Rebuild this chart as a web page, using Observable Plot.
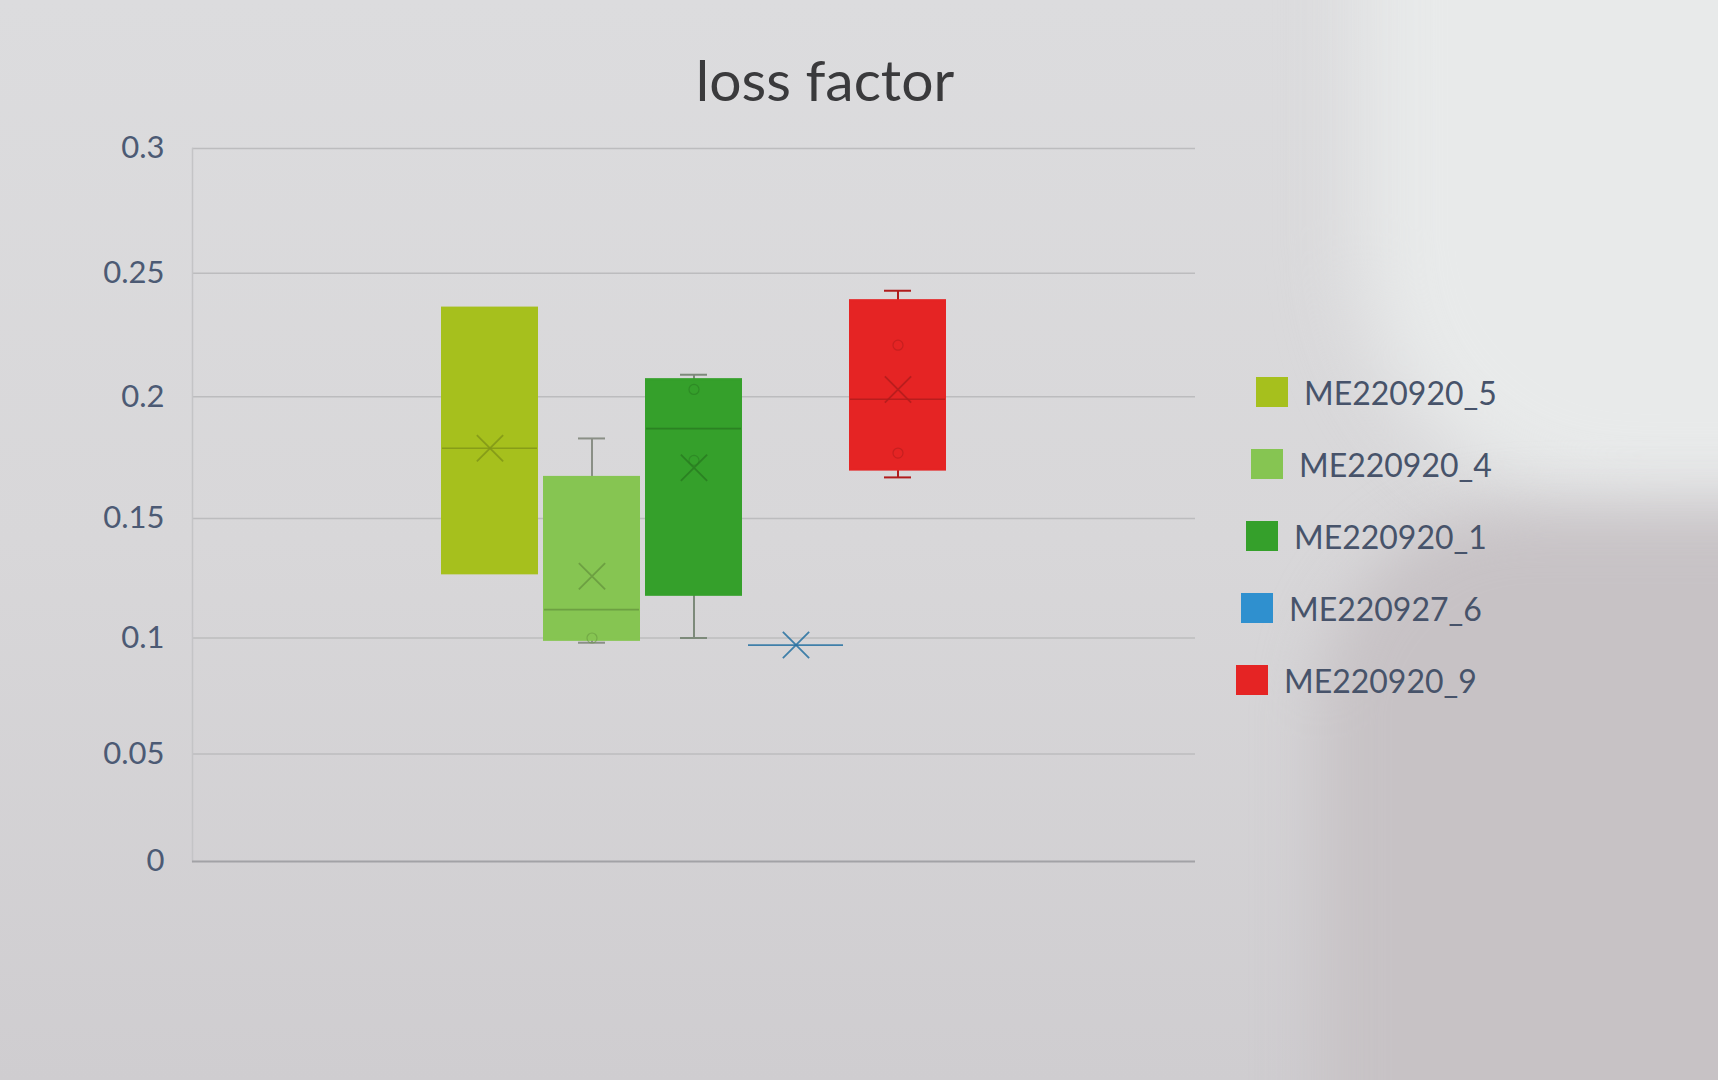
<!DOCTYPE html>
<html><head><meta charset="utf-8">
<script src="https://cdn.jsdelivr.net/npm/d3@7"></script>
<script src="https://cdn.jsdelivr.net/npm/@observablehq/plot@0.6"></script>
<style>
html,body{margin:0;padding:0;}
body{width:1718px;height:1080px;overflow:hidden;font-family:Lato,"Open Sans",sans-serif;
 background:linear-gradient(180deg, #dcdcde 0%, #d8d7d9 50%, #cfcdd0 100%);}
#wrap{position:relative;width:1718px;height:1080px;overflow:hidden;}
.bg{position:absolute;pointer-events:none;}
#bright{left:1360px;top:-120px;width:520px;height:630px;background:#e8eaea;border-radius:0 0 0 260px;filter:blur(40px);}
#shade{left:1320px;top:512px;width:620px;height:700px;background:#c7c2c5;border-radius:200px 0 0 0;filter:blur(30px);}
#title{position:absolute;top:45px;left:525px;width:600px;text-align:center;font-size:57px;line-height:1.2;color:#3a3a3c;}
#chart{position:absolute;top:118px;left:0;}
.item{position:absolute;display:flex;align-items:center;height:40px;font-size:32px;color:#47536a;}
.sw{width:32px;height:30px;margin-right:16px;}
</style></head>
<body><div id="wrap"><div class="bg" id="bright"></div><div class="bg" id="shade"></div>
<div id="title">loss factor</div><div id="chart"></div><div id="legend"></div></div>
<script>
const series = ["ME220920_5","ME220920_4","ME220920_1","ME220927_6","ME220920_9"];
const colors = ["#a6c01d","#86c552","#35a02b","#2f90cf","#e52424"];
const whiskerColors = ["#7e8a3a","#8a8f86","#7d8a7a","#2f78b0","#b01c1c"];
const mins    = [0.127,0.098,0.100,0.097,0.167];
const q1s     = [0.127,0.099,0.118,0.097,0.170];
const medians = [0.179,0.112,0.187,0.097,0.199];
const q3s     = [0.236,0.167,0.207,0.097,0.239];
const maxs    = [0.236,0.183,0.209,0.097,0.243];
const means   = [0.179,0.126,0.171,0.097,0.203];
const innerSeries = ["ME220920_4","ME220920_1","ME220920_1","ME220920_9","ME220920_9"];
const innerValues = [0.100,0.203,0.174,0.221,0.177];
const yTicks = [0,0.05,0.1,0.15,0.2,0.25,0.3];
const tickLabels = ["0","0.05","0.1","0.15","0.2","0.25","0.3"];

const dark = c => d3.color(c).darker(0.7).formatHex();
const data = series.map((s,i)=>({series:s,color:colors[i],dark:dark(colors[i]),whisker:whiskerColors[i],
  min:mins[i],q1:q1s[i],median:medians[i],q3:q3s[i],max:maxs[i],mean:means[i]}));
const inner = innerSeries.map((s,i)=>({series:s,value:innerValues[i],dark:dark(colors[series.indexOf(s)])}));

const plot = Plot.plot({
  width:1718, height:962,
  marginLeft:192, marginRight:523, marginTop:30, marginBottom:219,
  style:{fontFamily:"Lato, 'Open Sans', sans-serif", background:"transparent", color:"#4e5d78"},
  x:{domain:series, axis:null, paddingInner:0.07, paddingOuter:2.43, align:0.5},
  y:{type:"pow", exponent:1.056, domain:[0,0.3], axis:null},
  color:{type:"identity"},
  marks:[
    Plot.ruleY(yTicks.slice(1), {stroke:"#bcbcbe", strokeWidth:1.5}),
    Plot.frame({anchor:"left", stroke:"#c4c4c6", strokeWidth:1.5}),
    Plot.ruleY([0], {stroke:"#a2a2a6", strokeWidth:2}),
    Plot.axisY({ticks:yTicks, tickFormat:d=>tickLabels[yTicks.indexOf(d)], tickSize:0, tickPadding:28, fontSize:31, fill:"#4c5a74"}),
    Plot.ruleX(data.filter(d=>d.min<d.q1), {x:"series", y1:"min", y2:"q1", stroke:"whisker", strokeWidth:2}),
    Plot.ruleX(data.filter(d=>d.max>d.q3), {x:"series", y1:"q3", y2:"max", stroke:"whisker", strokeWidth:2}),
    Plot.tickY(data.filter(d=>d.min<d.q1), {x:"series", y:"min", stroke:"whisker", strokeWidth:2, insetLeft:34, insetRight:34}),
    Plot.tickY(data.filter(d=>d.max>d.q3), {x:"series", y:"max", stroke:"whisker", strokeWidth:2, insetLeft:34, insetRight:34}),
    Plot.barY(data, {x:"series", y1:"q1", y2:"q3", fill:"color", stroke:"color", strokeWidth:2}),
    Plot.tickY(data, {x:"series", y:"median", stroke:"dark", strokeWidth:1.6, strokeOpacity:0.85}),
    Plot.dot(inner, {x:"series", y:"value", r:5, stroke:"dark", fill:"none", strokeWidth:1.2, strokeOpacity:0.6}),
    Plot.dot(data, {x:"series", y:"mean", symbol:"times", r:12, stroke:"dark", strokeWidth:1.8, strokeOpacity:0.85})
  ]
});
document.getElementById("chart").appendChild(plot);

const legendTop = 372, legendStep = 72;
const leg = document.getElementById("legend");
series.forEach((s,i)=>{
  const item = document.createElement("div");
  item.className = "item";
  item.style.top = (legendTop + i*legendStep) + "px";
  item.style.left = (1256 - i*5) + "px";
  const sw = document.createElement("div");
  sw.className = "sw"; sw.style.background = colors[i];
  const t = document.createElement("span"); t.textContent = s;
  item.appendChild(sw); item.appendChild(t);
  leg.appendChild(item);
});
</script>
</body></html>
